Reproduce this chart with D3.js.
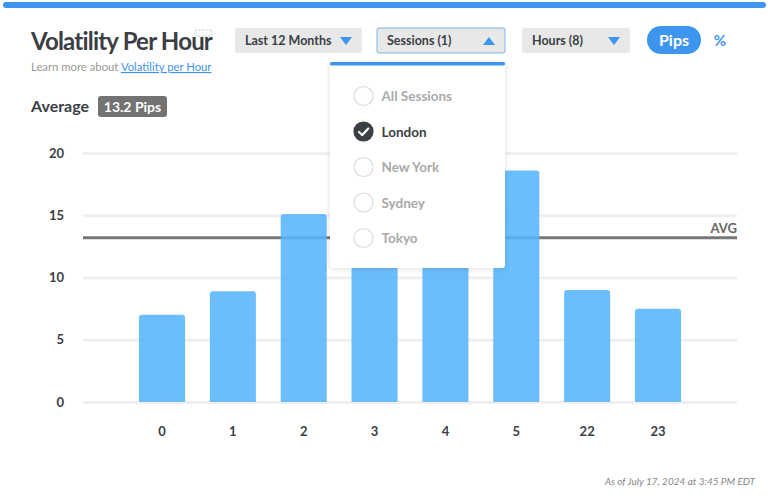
<!DOCTYPE html>
<html>
<head>
<meta charset="utf-8">
<script src="https://cdn.jsdelivr.net/npm/d3@7"></script>
<style>
  body { margin: 0; background: #fff; }
  svg { display: block; font-family: Lato, "Noto Sans", sans-serif; }
</style>
</head>
<body>
<div id="chart"></div>
<script>
// data
const hours = ['0', '1', '2', '3', '4', '5', '22', '23'];
const pips = [7.0, 8.9, 15.1, 19.6, 19.9, 18.6, 9.0, 7.5];
const average = 13.2;
const yTicks = [0, 5, 10, 15, 20];
const sessions = ['All Sessions', 'London', 'New York', 'Sydney', 'Tokyo'];
const selectedSession = 'London';
const filters = ['Last 12 Months', 'Sessions (1)', 'Hours (8)'];

const W = 768, H = 503;
const margin = { top: 153, right: 31, bottom: 101, left: 83 };
const width = W - margin.left - margin.right;
const height = H - margin.top - margin.bottom;

const svg = d3.select('#chart').append('svg')
    .attr('width', W)
    .attr('height', H);

// top accent strip
svg.append('rect')
    .attr('x', 3).attr('y', 2).attr('width', 763).attr('height', 6)
    .attr('rx', 3).attr('fill', '#3d95f0');

// title + link
svg.append('text')
    .attr('x', 31).attr('y', 50)
    .attr('fill', '#3b3e45')
    .style('font-size', '24px').style('font-weight', 'bold')
    .style('letter-spacing', '-0.8px')
    .text('Volatility Per Hour');

svg.append('rect')
    .attr('x', 195).attr('y', 30).attr('width', 17).attr('height', 6)
    .attr('fill', 'none').attr('stroke', '#bbb').attr('stroke-width', 0.8)
    .attr('stroke-dasharray', '2,1.5');

const learn = svg.append('text')
    .attr('x', 31).attr('y', 71)
    .style('font-size', '11.3px').attr('fill', '#999');
learn.append('tspan').text('Learn more about ');
learn.append('tspan').attr('fill', '#3d95f0')
    .style('text-decoration', 'underline').text('Volatility per Hour');

// average badge
svg.append('text')
    .attr('x', 31).attr('y', 112)
    .attr('fill', '#3b3e45')
    .style('font-size', '16px').style('font-weight', 'bold')
    .text('Average');
svg.append('rect')
    .attr('x', 98).attr('y', 96).attr('width', 69).attr('height', 21)
    .attr('rx', 3).attr('fill', '#737373');
svg.append('text')
    .attr('x', 132.5).attr('y', 111.5)
    .attr('text-anchor', 'middle').attr('fill', '#fff')
    .style('font-size', '14px').style('font-weight', 'bold')
    .text(`${average} Pips`);

// filter dropdown buttons
const btnX = [235, 377, 522];
const btnW = [127, 128, 108];
filters.forEach((f, i) => {
    const g = svg.append('g').attr('transform', `translate(${btnX[i]},28)`);
    g.append('rect')
        .attr('width', btnW[i]).attr('height', 25).attr('rx', 2)
        .attr('fill', '#e8e8e8')
        .attr('stroke', i === 1 ? '#7db5ee' : 'none').attr('stroke-width', 1);
    g.append('text')
        .attr('x', 10).attr('y', 17)
        .attr('fill', '#3b3e45')
        .style('font-size', '12.5px').style('font-weight', 'bold')
        .text(f);
    const tx = btnW[i] - 16;
    const tri = i === 1
        ? `M${tx - 6},17 L${tx + 6},17 L${tx},9 Z`
        : `M${tx - 6},9 L${tx + 6},9 L${tx},17 Z`;
    g.append('path').attr('d', tri).attr('fill', '#3d95f0');
});

// pips / % toggle
svg.append('rect')
    .attr('x', 647).attr('y', 26).attr('width', 54).attr('height', 28)
    .attr('rx', 14).attr('fill', '#3d95f0');
svg.append('text')
    .attr('x', 674).attr('y', 46).attr('text-anchor', 'middle')
    .attr('fill', '#fff').style('font-size', '16px').style('font-weight', 'bold')
    .text('Pips');
svg.append('text')
    .attr('x', 720).attr('y', 46).attr('text-anchor', 'middle')
    .attr('fill', '#3d95f0').style('font-size', '15px').style('font-weight', 'bold')
    .text('%');

// scales
const chart = svg.append('g')
    .attr('transform', `translate(${margin.left},${margin.top})`);

const xScale = d3.scaleBand()
    .domain(hours)
    .range([0, width])
    .paddingInner(0.35)
    .paddingOuter(0.79);

const yScale = d3.scaleLinear()
    .domain([0, 20])
    .range([height, 0]);

// grid lines
const yAxis = d3.axisLeft(yScale)
    .tickValues(yTicks)
    .tickSize(-width)
    .tickPadding(19);

chart.append('g')
    .attr('class', 'y-axis')
    .call(yAxis)
    .call(g => g.select('.domain').remove())
    .call(g => g.selectAll('line').attr('stroke', '#efefef').attr('stroke-width', 3))
    .call(g => g.selectAll('text')
        .attr('fill', '#3b3e45')
        .style('font-size', '13px').style('font-weight', 'bold')
        .style('font-family', 'Lato, sans-serif'));

const xAxis = d3.axisBottom(xScale).tickSize(0).tickPadding(25);
chart.append('g')
    .attr('class', 'x-axis')
    .attr('transform', `translate(0,${height})`)
    .call(xAxis)
    .call(g => g.select('.domain').remove())
    .call(g => g.selectAll('text')
        .attr('fill', '#3b3e45')
        .style('font-size', '13px').style('font-weight', 'bold')
        .style('font-family', 'Lato, sans-serif'));

// average line (under the bars, bars are a bit see-through)
chart.append('line')
    .attr('x1', 0).attr('x2', width)
    .attr('y1', yScale(average)).attr('y2', yScale(average))
    .attr('stroke', '#777').attr('stroke-width', 3);
chart.append('text')
    .attr('x', width).attr('y', yScale(average) - 5)
    .attr('text-anchor', 'end').attr('fill', '#666')
    .style('font-size', '13px').style('font-weight', 'bold')
    .text('AVG');

// bars, rounded on top only
const r = 3;
chart.selectAll('.bar')
    .data(hours.map((h, i) => ({ hour: h, value: pips[i] })))
    .join('path')
    .attr('class', 'bar')
    .attr('fill', '#56b4fc')
    .attr('fill-opacity', 0.88)
    .attr('d', d => {
        const x0 = xScale(d.hour), x1 = x0 + xScale.bandwidth();
        const y0 = yScale(d.value), y1 = yScale(0);
        return `M${x0},${y1} L${x0},${y0 + r} Q${x0},${y0} ${x0 + r},${y0}
                L${x1 - r},${y0} Q${x1},${y0} ${x1},${y0 + r} L${x1},${y1} Z`;
    });

// open sessions dropdown
const dd = svg.append('g').attr('transform', 'translate(330,62)');
const shadow = svg.append('defs').append('filter').attr('id', 'shadow')
    .attr('x', '-20%').attr('y', '-10%').attr('width', '140%').attr('height', '130%');
shadow.append('feDropShadow')
    .attr('dx', 0).attr('dy', 1).attr('stdDeviation', 3)
    .attr('flood-color', '#000').attr('flood-opacity', 0.12);
dd.append('rect')
    .attr('width', 175).attr('height', 206).attr('rx', 3)
    .attr('fill', '#fff').attr('filter', 'url(#shadow)');
dd.append('rect')
    .attr('width', 175).attr('height', 3.5).attr('rx', 1.5)
    .attr('fill', '#3d95f0');

const itemY = d3.scalePoint().domain(sessions).range([34, 176]);
sessions.forEach(s => {
    const on = s === selectedSession;
    const g = dd.append('g').attr('transform', `translate(0,${itemY(s)})`);
    g.append('circle')
        .attr('cx', 33.5).attr('cy', 0).attr('r', 9.5)
        .attr('fill', on ? '#3b3e45' : '#fff')
        .attr('stroke', on ? '#3b3e45' : '#ddd').attr('stroke-width', 1.2);
    if (on) {
        g.append('path')
            .attr('d', 'M29,0.5 L32.3,3.6 L38.3,-3')
            .attr('fill', 'none').attr('stroke', '#fff')
            .attr('stroke-width', 2.2).attr('stroke-linecap', 'round')
            .attr('stroke-linejoin', 'round');
    }
    g.append('text')
        .attr('x', 51.5).attr('y', 5)
        .attr('fill', on ? '#3b3e45' : '#aaa')
        .style('font-size', '13.5px').style('font-weight', 'bold')
        .text(s);
});

// footer
svg.append('text')
    .attr('x', 755).attr('y', 485)
    .attr('text-anchor', 'end').attr('fill', '#888')
    .style('font-size', '10px').style('font-style', 'italic')
    .text('As of July 17, 2024 at 3:45 PM EDT');
</script>
</body>
</html>
